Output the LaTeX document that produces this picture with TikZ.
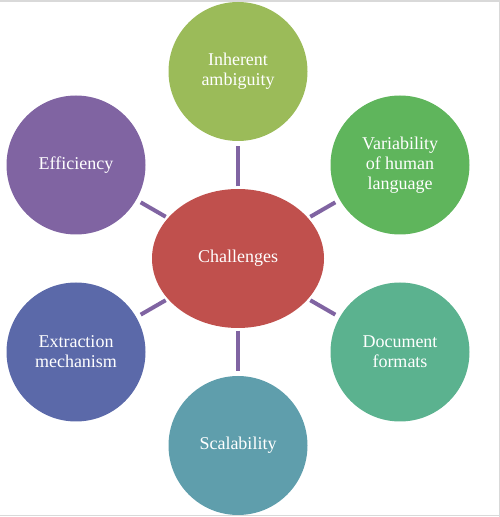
\documentclass[tikz,border=0pt]{standalone}
\usepackage{fontspec}
\setmainfont{Liberation Serif}
\usepackage{tikz}
\usetikzlibrary{shapes.geometric,positioning}
\definecolor{hubred}{HTML}{C0504D}
\definecolor{olive}{HTML}{9BBB59}
\definecolor{leafgreen}{HTML}{5FB55C}
\definecolor{seagreen}{HTML}{5BB28F}
\definecolor{teal}{HTML}{5F9EAC}
\definecolor{slate}{HTML}{5B69A9}
\definecolor{violet}{HTML}{8064A2}
\definecolor{frame}{HTML}{D9D9D9}
\tikzstyle{topic} = [circle,minimum size=139pt,inner sep=0pt,text=white,align=center,font=\fontsize{18}{20}\selectfont]
\tikzstyle{hub} = [ellipse,minimum width=172pt,minimum height=139pt,inner sep=0pt,fill=hubred,text=white,font=\fontsize{18}{20}\selectfont]
\tikzstyle{link} = [violet,line width=4pt,shorten <=2.5pt,shorten >=5pt]

\begin{document}
\begin{tikzpicture}[x=1pt,y=1pt]
    \useasboundingbox (0,0) rectangle (500,517);
    \draw [frame,line width=2pt] (0,516) -- (500,516);
    \draw [frame,line width=1pt] (499,517) -- (499,0);
    \draw [frame,line width=1pt] (0,1.5) -- (500,1.5);

    \node [hub] (challenges) at (238,258.5) {Challenges};
    \node [topic,fill=olive] (ambiguity) at (238,445.5) {Inherent\\ambiguity};
    \node [topic,fill=leafgreen] (variability) at (400,352) {Variability\\of human\\language};
    \node [topic,fill=seagreen] (formats) at (400,165) {Document\\formats};
    \node [topic,fill=teal] (scalability) at (238,71.5) {Scalability};
    \node [topic,fill=slate] (extraction) at (76,165) {Extraction\\mechanism};
    \node [topic,fill=violet] (efficiency) at (76,352) {Efficiency};

    \draw [link] (challenges) -- (ambiguity);
    \draw [link] (challenges) -- (variability);
    \draw [link] (challenges) -- (formats);
    \draw [link] (challenges) -- (scalability);
    \draw [link] (challenges) -- (extraction);
    \draw [link] (challenges) -- (efficiency);
  \end{tikzpicture}
\end{document}
